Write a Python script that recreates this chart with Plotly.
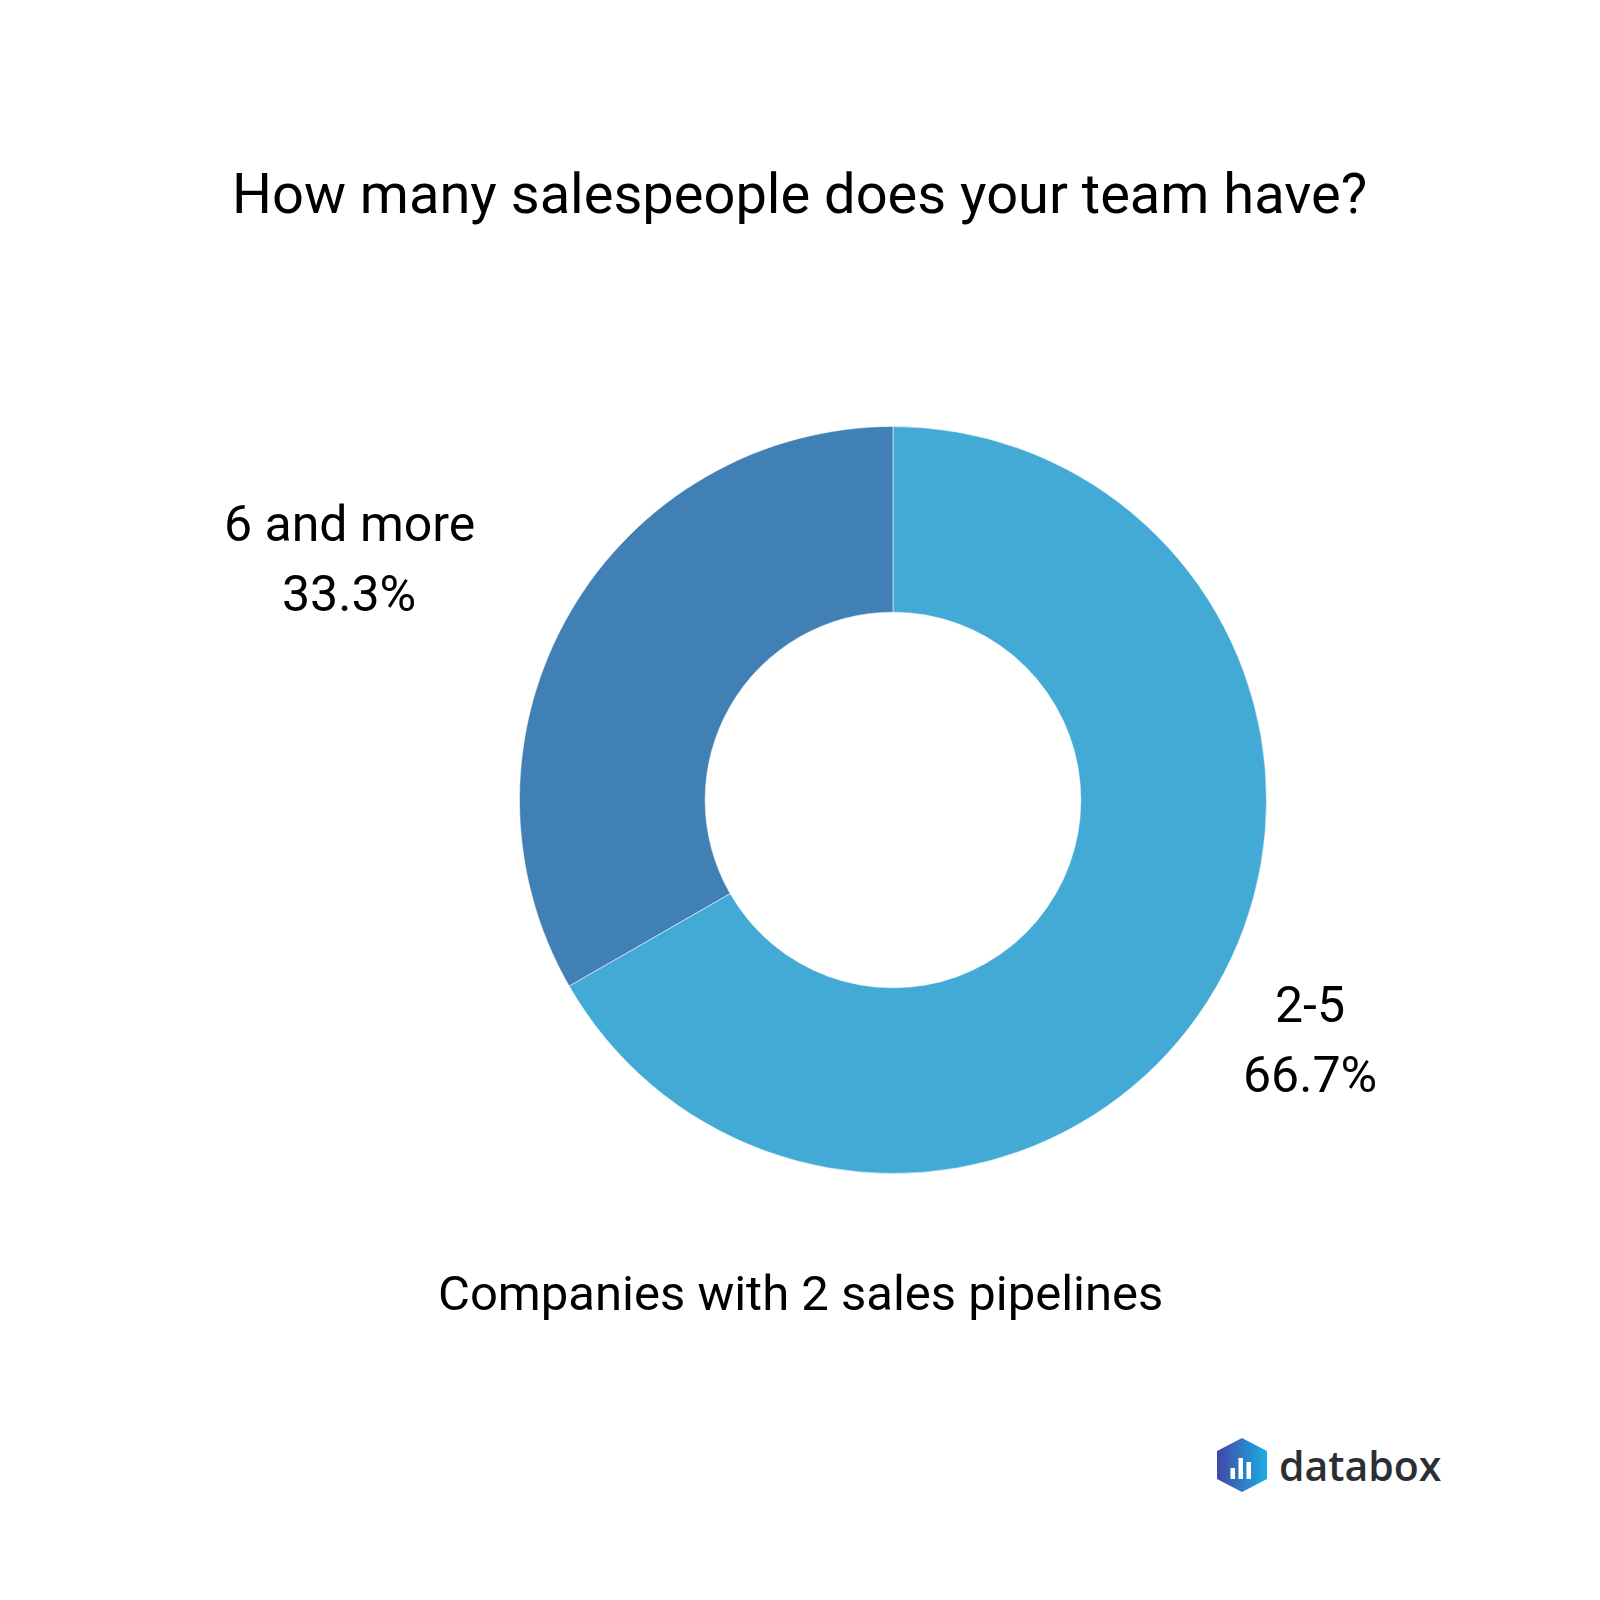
import plotly.graph_objects as go

# ---- data ----
categories = ["2-5", "6 and more"]
values = [66.7, 33.3]
colors = ["#43AAD6", "#4180B4"]
title_text = "How many salespeople does your team have?"
subtitle_text = "Companies with 2 sales pipelines"

W = H = 1600
cx, cy, R = 893, 800, 373.5

fig = go.Figure()

fig.add_trace(go.Pie(
    labels=categories, values=values, sort=False, direction="clockwise",
    rotation=0, hole=0.503, textinfo="none", showlegend=False,
    marker=dict(colors=colors, line=dict(color="rgba(255,255,255,0.5)", width=1)),
    domain=dict(x=[(cx - R) / W, (cx + R) / W], y=[(H - cy - R) / H, (H - cy + R) / H]),
    hoverinfo="label+percent",
))

# label positions (pixel coordinates: x center, y of first line, y of second line)
label_pos = {"6 and more": (349, 524, 594), "2-5": (1310, 1005, 1075)}
total = sum(values)
annotations = []
lab_font = dict(family="Roboto", size=50, color="#000000")
for cat, v in zip(categories, values):
    x, y1, y2 = label_pos[cat]
    for txt, yy in [(cat, y1), (f"{v / total * 100:.1f}%", y2)]:
        annotations.append(dict(
            x=x / W, y=1 - yy / H, xref="paper", yref="paper", showarrow=False,
            text=txt, font=lab_font, xanchor="center", yanchor="middle",
        ))

annotations.append(dict(x=799 / W, y=1 - 194 / H, xref="paper", yref="paper", showarrow=False,
                        text=title_text, font=dict(family="Roboto", size=56, color="#000000"),
                        xanchor="center", yanchor="middle"))
annotations.append(dict(x=800 / W, y=1 - 1293 / H, xref="paper", yref="paper", showarrow=False,
                        text=subtitle_text, font=dict(family="Roboto", size=49, color="#000000"),
                        xanchor="center", yanchor="middle"))
annotations.append(dict(x=1277 / W, y=1 - 1465 / H, xref="paper", yref="paper", showarrow=False,
                        text="databox", font=dict(family="Open Sans", size=41, weight=600, color="#2B2F35"),
                        xanchor="left", yanchor="middle"))

# logo hexagon (pixel coords on hidden axes)
hx = [1242, 1267, 1267, 1242, 1217, 1217, 1242]
hy = [1438, 1451, 1479, 1492, 1479, 1451, 1438]
fig.add_trace(go.Scatter(
    x=hx, y=hy, mode="lines", fill="toself", line=dict(width=0, color="#2F7FC8"),
    fillgradient=dict(type="horizontal", colorscale=[[0, "#4247A6"], [1, "#1CADE2"]]),
    showlegend=False, hoverinfo="skip",
))

shapes = []
for x0, x1, y0 in [(1230.5, 1235, 1468), (1238.5, 1243, 1458), (1246.5, 1251, 1462)]:
    shapes.append(dict(type="rect", xref="x", yref="y", x0=x0, x1=x1, y0=y0, y1=1479,
                       fillcolor="white", line=dict(width=0)))

fig.update_layout(
    width=W, height=H, margin=dict(l=0, r=0, t=0, b=0),
    paper_bgcolor="white", plot_bgcolor="rgba(0,0,0,0)",
    xaxis=dict(range=[0, W], visible=False, domain=[0, 1], fixedrange=True),
    yaxis=dict(range=[H, 0], visible=False, domain=[0, 1], fixedrange=True),
    annotations=annotations, shapes=shapes,
)

fig.write_html("out.html")
